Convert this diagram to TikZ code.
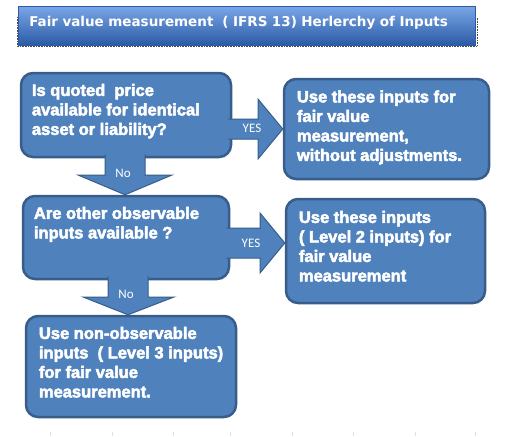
\documentclass[tikz,border=0pt]{standalone}
\usepackage{fontspec}
\setmainfont{Liberation Sans}[BoldFeatures={FakeBold=3}]
\newfontfamily\labelfont{Carlito}
\newfontfamily\titlefont{DejaVu Sans}
\usetikzlibrary{positioning,calc}
\definecolor{boxblue}{HTML}{4F81BD}
\definecolor{boxline}{HTML}{385D8A}
\definecolor{bartop}{HTML}{7AA6E6}
\definecolor{barmid}{HTML}{4A80D0}
\definecolor{barbottom}{HTML}{2B5BA6}

\tikzset{
  box/.style={draw=boxline, fill=boxblue, line width=2.5pt, rounded corners=12pt, inner sep=0pt},
  boxtext/.style={text=white, font=\bfseries\fontsize{16.5}{19.5}\selectfont, align=left, inner sep=0pt, anchor=north west},
  blockarrow/.style={fill=boxblue, draw=boxline, line width=1pt, line join=miter},
  arrowlabel/.style={text=white, font=\labelfont\fontsize{13}{13}\selectfont, inner sep=0pt},
  titlebar/.style={top color=bartop, middle color=barmid, bottom color=barbottom, draw=barbottom, line width=0.5pt,
    text=white, font=\titlefont\bfseries\fontsize{13.5}{14}\selectfont, align=left, inner xsep=11pt, text depth=9pt}
}

\begin{document}
\begin{tikzpicture}[x=1pt, y=-1pt]
  \useasboundingbox [fill=white] (0,0) rectangle (510,436);

  % title bar
  \draw [densely dotted, black!70, line width=0.6pt] (17,17) -- (17,46) -- (477,46) -- (477,17);
  \node [titlebar, anchor=north west, minimum width=457pt, minimum height=39pt, text width=435pt] (title) at (18,6)
    {\mbox{Fair value measurement\ \ ( IFRS 13) Herlerchy of Inputs}};

  % boxes
  \node [box, minimum width=210pt, minimum height=84pt] (q1) at (126,115) {};
  \node [box, minimum width=205pt, minimum height=100pt] (u1) at (386.5,129) {};
  \node [box, minimum width=206pt, minimum height=83pt] (q2) at (126,237.5) {};
  \node [box, minimum width=199pt, minimum height=104pt] (u2) at (385.5,251) {};
  \node [box, minimum width=210pt, minimum height=101pt] (u3) at (131,366.5) {};

  \node [boxtext, below right=12pt and 12pt of q1.north west] (q1text)
    {Is quoted\ \ price\\available for identical\\asset or liability?};
  \node [boxtext, below right=12.5pt and 14pt of u1.north west] (u1text)
    {Use these inputs for\\fair value\\measurement,\\without adjustments.};
  \node [boxtext, below right=12pt and 12pt of q2.north west] (q2text)
    {Are other observable\\inputs available ?};
  \node [boxtext, below right=13pt and 14pt of u2.north west] (u2text)
    {Use these inputs\\( Level 2 inputs) for\\fair value\\measurement};
  \node [boxtext, below right=12pt and 14pt of u3.north west] (u3text)
    {Use non-observable\\inputs\ \ ( Level 3 inputs)\\for fair value\\measurement.};

  % block arrows
  \filldraw [blockarrow] ($(q1.east |- 0,119)+(-4,0)$) -- (258,119) -- (258,99) -- (u1.west |- 0,129)
    -- (258,159) -- (258,139) -- ($(q1.east |- 0,139)+(-4,0)$);
  \filldraw [blockarrow] ($(q2.east |- 0,228)+(-4,0)$) -- (260,228) -- (260,213) -- (u2.west |- 0,243)
    -- (260,273) -- (260,258) -- ($(q2.east |- 0,258)+(-4,0)$);
  \filldraw [blockarrow] ($(q1.south -| 105,0)+(0,-4)$) -- (105,175) -- (78,175) -- (q2.north -| 125,0)
    -- (172,175) -- (145,175) -- ($(q1.south -| 145,0)+(0,-4)$);
  \filldraw [blockarrow] ($(q2.south -| 108,0)+(0,-4)$) -- (108,297) -- (83,297) -- (u3.north -| 128,0)
    -- (174,297) -- (148,297) -- ($(q2.south -| 148,0)+(0,-4)$);

  \node [arrowlabel] (yes1) at (252,128) {YES};
  \node [arrowlabel] (yes2) at (251,243) {YES};
  \node [arrowlabel] (no1) at (123,173) {No};
  \node [arrowlabel] (no2) at (126,294) {No};

  % faint ticks at the bottom
  \foreach \x in {50,112,173,230,292,353,415,475}
    \draw [black!12] (\x,432) -- (\x,436);
\end{tikzpicture}
\end{document}
